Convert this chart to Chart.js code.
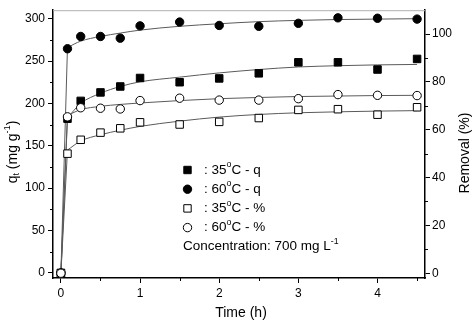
<!DOCTYPE html>
<html>
<head>
<meta charset="utf-8">
<script src="https://cdn.jsdelivr.net/npm/chart.js@4.4.1/dist/chart.umd.min.js"></script>
<style>
  html, body { margin: 0; padding: 0; background: #fff; }
  #wrap { width: 474px; height: 323px; }
</style>
</head>
<body>
<div id="wrap"><canvas id="kinetics" width="474" height="323"></canvas></div>
<script>
// sampling times (h)
const hours = [0, 0.083, 0.25, 0.5, 0.75, 1, 1.5, 2, 2.5, 3, 3.5, 4, 4.5];

// measured uptake q_t (mg/g)
const q35 = [0, 182, 203, 213, 220, 230, 225, 229.5, 235.5, 248.5, 248.5, 240, 252.5];
const q60 = [0, 264.5, 279, 279, 277, 291.5, 296, 292, 291, 294.5, 301, 300.5, 299.5];

// measured removal (%)
const removal35 = [0, 50, 55.8, 58.8, 60.6, 63.1, 62.2, 63.3, 64.9, 68.3, 68.6, 66.3, 69.4];
const removal60 = [0, 65.4, 69.2, 69, 68.7, 72.2, 73.2, 72.4, 72.4, 73, 74.7, 74.4, 74.3];

// fitted model curves
const fitHours = [0.083, 0.25, 0.5, 0.75, 1, 1.5, 2, 2.5, 3, 3.5, 4, 4.5];
const q35Fit = [183, 200, 212, 220, 225.5, 231, 236, 240, 243, 244.5, 245.5, 246];
const q60Fit = [266, 273.5, 279, 283, 286.5, 291, 294, 296.5, 298, 299, 299.5, 300];
const removal35Fit = [51.5, 55.3, 57.9, 59.8, 61.4, 63.6, 65.3, 66.4, 67.1, 67.5, 67.8, 68];
const removal60Fit = [66, 68.4, 69.8, 70.6, 71.2, 72.2, 73, 73.5, 73.9, 74.1, 74.3, 74.4];

// axis ticks
const timeTicks = [0, 1, 2, 3, 4];
const timeMinor = [0.5, 1.5, 2.5, 3.5, 4.5];
const qTicks = [0, 50, 100, 150, 200, 250, 300];
const qMinor = [25, 75, 125, 175, 225, 275];
const removalTicks = [0, 20, 40, 60, 80, 100];
const removalMinor = [10, 30, 50, 70, 90];

const FONT = "'Liberation Sans', Arial, Helvetica, sans-serif";
const LINE_GREY = '#5a5a5a';

const toPoints = (xs, ys) => xs.map((x, i) => ({ x: x, y: ys[i] }));

function fitCurve(ys, axis) {
    return {
        type: 'line',
        data: toPoints(fitHours, ys),
        yAxisID: axis,
        borderColor: LINE_GREY,
        borderWidth: 1,
        pointRadius: 0,
        cubicInterpolationMode: 'monotone',
        fill: false,
        order: 10
    };
}

// steep initial rise from the origin to the first fitted point
function riseLine(ys, axis) {
    return {
        type: 'line',
        data: [{ x: 0, y: 0 }, { x: fitHours[0], y: ys[0] }],
        yAxisID: axis,
        borderColor: LINE_GREY,
        borderWidth: 1,
        pointRadius: 0,
        tension: 0,
        fill: false,
        order: 10
    };
}

function markers(ys, axis, style, filled, order) {
    return {
        type: 'scatter',
        data: toPoints(hours, ys),
        yAxisID: axis,
        pointStyle: style,
        pointRadius: style === 'rect' ? 5.3 : 4.2,
        pointBorderWidth: 1,
        pointBackgroundColor: filled ? '#000' : '#fff',
        pointBorderColor: '#000',
        showLine: false,
        order: order
    };
}

const fixedTicks = (values) => (scale) => {
    scale.ticks = values.map(v => ({ value: v }));
};

// draws a run of text pieces, some raised or lowered
function drawRuns(ctx, runs, x, y, size) {
    let cx = x;
    runs.forEach(r => {
        const s = r.sup || r.sub ? size * 0.65 : size;
        ctx.font = s + 'px ' + FONT;
        const dy = r.sup ? -size * 0.38 : (r.sub ? size * 0.25 : 0);
        ctx.fillText(r.t, cx, y + dy);
        cx += ctx.measureText(r.t).width;
    });
    return cx - x;
}

function runsWidth(ctx, runs, size) {
    let w = 0;
    runs.forEach(r => {
        const s = r.sup || r.sub ? size * 0.65 : size;
        ctx.font = s + 'px ' + FONT;
        w += ctx.measureText(r.t).width;
    });
    return w;
}

const decorations = {
    id: 'decorations',
    afterDraw(chart) {
        const ctx = chart.ctx;
        const area = chart.chartArea;
        const sx = chart.scales.x, sy = chart.scales.y, sr = chart.scales.y1;
        ctx.save();

        // light top frame
        ctx.strokeStyle = '#b0b0b0';
        ctx.lineWidth = 1;
        ctx.beginPath();
        ctx.moveTo(area.left, area.top + 0.5);
        ctx.lineTo(area.right, area.top + 0.5);
        ctx.stroke();

        // minor ticks
        ctx.strokeStyle = '#000';
        ctx.lineWidth = 1;
        ctx.beginPath();
        timeMinor.forEach(v => {
            const px = Math.round(sx.getPixelForValue(v)) + 0.5;
            ctx.moveTo(px, area.bottom);
            ctx.lineTo(px, area.bottom + 3);
        });
        qMinor.forEach(v => {
            const py = Math.round(sy.getPixelForValue(v)) + 0.5;
            ctx.moveTo(area.left, py);
            ctx.lineTo(area.left - 3, py);
        });
        removalMinor.forEach(v => {
            const py = Math.round(sr.getPixelForValue(v)) + 0.5;
            ctx.moveTo(area.right, py);
            ctx.lineTo(area.right + 3, py);
        });
        ctx.stroke();

        ctx.fillStyle = '#000';
        ctx.textBaseline = 'middle';
        ctx.textAlign = 'left';

        // x title
        ctx.font = '14px ' + FONT;
        ctx.textAlign = 'center';
        ctx.fillText('Time (h)', (area.left + area.right) / 2 + 2, 313);
        ctx.textAlign = 'left';

        // left title
        const qTitle = [{ t: 'q' }, { t: 't', sub: true }, { t: ' (mg g' }, { t: '-1', sup: true }, { t: ')' }];
        ctx.save();
        ctx.translate(13, 152);
        ctx.rotate(-Math.PI / 2);
        drawRuns(ctx, qTitle, -runsWidth(ctx, qTitle, 14) / 2, 0, 14);
        ctx.restore();

        // right title
        ctx.save();
        ctx.translate(465, 153);
        ctx.rotate(-Math.PI / 2);
        ctx.font = '14px ' + FONT;
        ctx.textAlign = 'center';
        ctx.fillText('Removal (%)', 0, 0);
        ctx.restore();

        // legend
        const entries = [
            { style: 'rect', filled: true, runs: [{ t: ': 35' }, { t: 'o', sup: true }, { t: 'C - q' }] },
            { style: 'circle', filled: true, runs: [{ t: ': 60' }, { t: 'o', sup: true }, { t: 'C - q' }] },
            { style: 'rect', filled: false, runs: [{ t: ': 35' }, { t: 'o', sup: true }, { t: 'C - %' }] },
            { style: 'circle', filled: false, runs: [{ t: ': 60' }, { t: 'o', sup: true }, { t: 'C - %' }] }
        ];
        entries.forEach((e, i) => {
            const ly = 170 + i * 19.2;
            ctx.fillStyle = e.filled ? '#000' : '#fff';
            ctx.strokeStyle = '#000';
            ctx.lineWidth = 1;
            ctx.beginPath();
            if (e.style === 'rect') {
                ctx.rect(187.5 - 3.7, ly - 3.7, 7.4, 7.4);
            } else {
                ctx.arc(187.5, ly, 4.2, 0, Math.PI * 2);
            }
            ctx.fill();
            ctx.stroke();
            ctx.fillStyle = '#000';
            drawRuns(ctx, e.runs, 204, ly, 13.5);
        });
        drawRuns(ctx, [{ t: 'Concentration: 700 mg L' }, { t: '-1', sup: true }], 183, 246.5, 13.5);

        ctx.restore();
    }
};

const datasets = [
    markers(removal60, 'y1', 'circle', false, 1),
    markers(removal35, 'y1', 'rect', false, 2),
    markers(q60, 'y', 'circle', true, 3),
    markers(q35, 'y', 'rect', true, 4),
    fitCurve(q35Fit, 'y'),
    fitCurve(q60Fit, 'y'),
    fitCurve(removal35Fit, 'y1'),
    fitCurve(removal60Fit, 'y1'),
    riseLine(q35Fit, 'y'),
    riseLine(q60Fit, 'y'),
    riseLine(removal35Fit, 'y1'),
    riseLine(removal60Fit, 'y1')
];

const tickFont = { family: FONT, size: 12 };

new Chart(document.getElementById('kinetics').getContext('2d'), {
    type: 'scatter',
    data: { datasets: datasets },
    plugins: [decorations],
    options: {
        responsive: false,
        animation: false,
        devicePixelRatio: 1,
        layout: { padding: { top: 3, left: 0, right: 0, bottom: 0 } },
        plugins: {
            legend: { display: false },
            tooltip: { enabled: false }
        },
        scales: {
            x: {
                type: 'linear',
                position: 'bottom',
                min: -0.1,
                max: 4.6,
                afterBuildTicks: fixedTicks(timeTicks),
                afterFit: (s) => { s.height = 45; },
                grid: { display: true, drawOnChartArea: false, drawTicks: true, tickLength: 5, color: '#000', lineWidth: 1 },
                border: { display: true, color: '#000', width: 1.5 },
                ticks: { font: tickFont, color: '#000', padding: 3, maxRotation: 0 }
            },
            y: {
                type: 'linear',
                position: 'left',
                min: -6,
                max: 310,
                afterBuildTicks: fixedTicks(qTicks),
                afterFit: (s) => { s.width = 53; },
                grid: { display: true, drawOnChartArea: false, drawTicks: true, tickLength: 5, color: '#000', lineWidth: 1 },
                border: { display: true, color: '#000', width: 1.5 },
                ticks: { font: tickFont, color: '#000', padding: 3 }
            },
            y1: {
                type: 'linear',
                position: 'right',
                min: -2,
                max: 110,
                afterBuildTicks: fixedTicks(removalTicks),
                afterFit: (s) => { s.width = 49; },
                grid: { display: true, drawOnChartArea: false, drawTicks: true, tickLength: 5, color: '#000', lineWidth: 1 },
                border: { display: true, color: '#000', width: 1.5 },
                ticks: { font: tickFont, color: '#000', padding: 2 }
            }
        }
    }
});
</script>
</body>
</html>
